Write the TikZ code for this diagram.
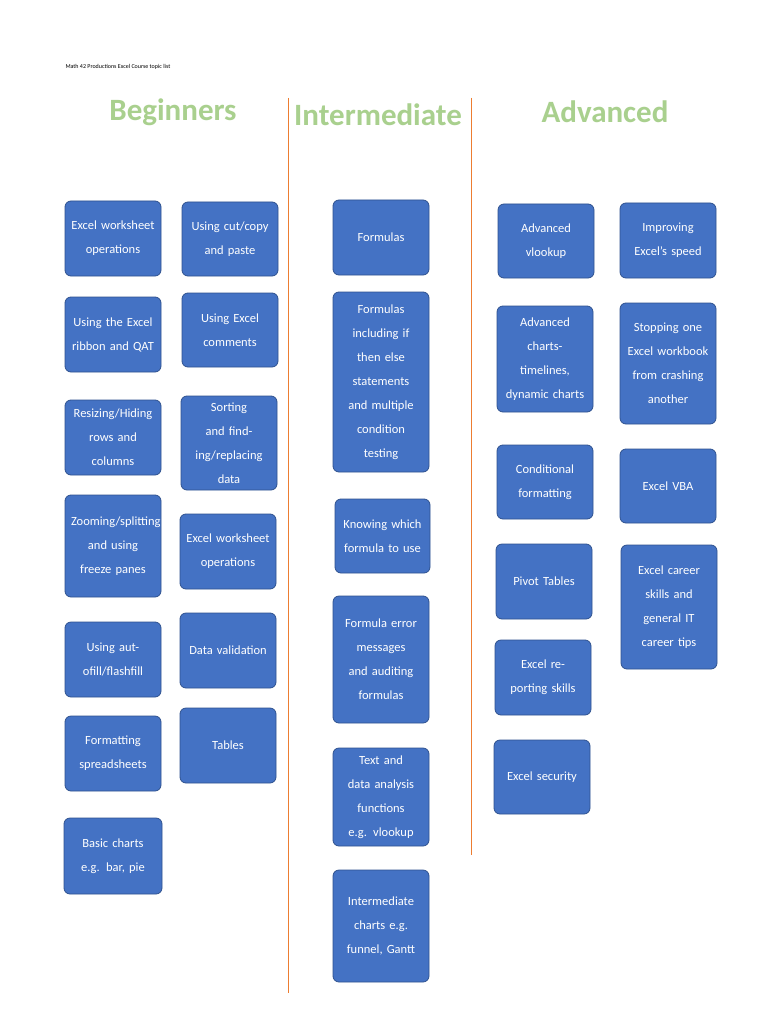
\documentclass[tikz,border=0pt]{standalone}
\usepackage{fontspec}
\setmainfont{Carlito}
\definecolor{boxblue}{RGB}{68,114,196}
\definecolor{boxedge}{RGB}{47,82,143}
\definecolor{headgreen}{RGB}{169,208,142}
\definecolor{divorange}{RGB}{237,125,49}
\tikzset{
  topic/.style={draw=boxedge,fill=boxblue,rounded corners=6pt,line width=0.8pt,
    text=white,align=center,text width=84pt,minimum width=96pt,
    font=\fontsize{12.5}{24}\selectfont},
  heading/.style={text=headgreen,font=\fontsize{31}{36}\selectfont\bfseries},
  divider/.style={draw=divorange,line width=0.8pt}
}
\begin{document}
\begin{tikzpicture}[x=1pt,y=-1pt]
	\useasboundingbox[fill=white] (0,0) rectangle (768,1024);
	% title and headings
		\node[anchor=west,font=\fontsize{6}{7}\selectfont] (title) at (62,67) {Math 42 Productions Excel Course topic list};
		\node[heading] (beg) at (173,112) {Beginners};
		\node[heading] (int) at (378,115) {Intermediate};
		\node[heading] (adv) at (605,112) {Advanced};
	% dividers
		\draw[divider] (288,98) -- (288,993);
		\draw[divider] (471,98) -- (471,855);
	% beginners, first column
		\node[topic,minimum height=75pt] (b1) at (113,238.5) {Excel worksheet operations};
		\node[topic,minimum height=75pt] (b2) at (113,334.5) {Using the Excel ribbon and QAT};
		\node[topic,minimum height=75pt] (b3) at (113,437.5) {Resizing/Hiding rows and columns};
		\node[topic,minimum height=102pt] (b4) at (113,546) {Zooming/splitting and using freeze panes};
		\node[topic,minimum height=75pt] (b5) at (113,659.5) {Using autofill/flashfill};
		\node[topic,minimum height=75pt] (b6) at (113,753.5) {Formatting spreadsheets};
		\node[topic,minimum height=76pt,minimum width=98pt] (b7) at (113,856) {Basic charts e.g. bar, pie};
	% beginners, second column
		\node[topic,minimum height=74pt] (c1) at (230,239) {Using cut/copy and paste};
		\node[topic,minimum height=74pt] (c2) at (230,330) {Using Excel comments};
		\node[topic,minimum height=94pt] (c3) at (229,443) {Sorting and finding/replacing data};
		\node[topic,minimum height=75pt] (c4) at (228,551.5) {Excel worksheet operations};
		\node[topic,minimum height=75pt] (c5) at (228,650.5) {Data validation};
		\node[topic,minimum height=75pt] (c6) at (228,745.5) {Tables};
	% intermediate
		\node[topic,minimum height=75pt] (i1) at (381,237.5) {Formulas};
		\node[topic,minimum height=180pt] (i2) at (381,382) {Formulas including if then else statements and multiple condition testing};
		\node[topic,minimum height=74pt,minimum width=95pt] (i3) at (382.5,536) {Knowing which formula to use};
		\node[topic,minimum height=127pt] (i4) at (381,659.5) {Formula error messages and auditing formulas};
		\node[topic,minimum height=98pt] (i5) at (381,797) {Text and data analysis functions e.g. vlookup};
		\node[topic,minimum height=112pt] (i6) at (381,926) {Intermediate charts e.g. funnel, Gantt};
	% advanced, first column
		\node[topic,minimum height=74pt] (a1) at (546,241) {Advanced vlookup};
		\node[topic,minimum height=106pt] (a2) at (545,359) {Advanced charts- timelines, dynamic charts};
		\node[topic,minimum height=74pt] (a3) at (545,482) {Conditional formatting};
		\node[topic,minimum height=75pt] (a4) at (544,581.5) {Pivot Tables};
		\node[topic,minimum height=75pt] (a5) at (543,677.5) {Excel reporting skills};
		\node[topic,minimum height=74pt] (a6) at (542,777) {Excel security};
	% advanced, second column
		\node[topic,minimum height=75pt] (d1) at (668,240.5) {Improving Excel's speed};
		\node[topic,minimum height=121pt] (d2) at (668,363.5) {Stopping one Excel workbook from crashing another};
		\node[topic,minimum height=74pt] (d3) at (668,486) {Excel VBA};
		\node[topic,minimum height=124pt] (d4) at (669,607) {Excel career skills and general IT career tips};
\end{tikzpicture}
\end{document}
